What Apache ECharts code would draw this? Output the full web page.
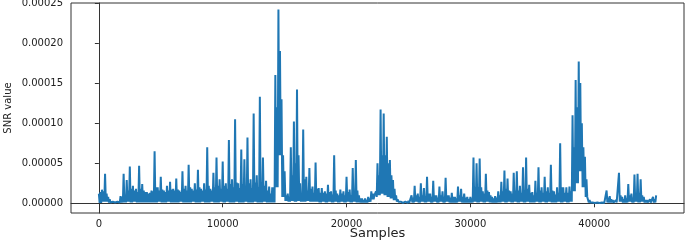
<!DOCTYPE html>
<html>
<head>
<meta charset="utf-8">
<script src="https://cdn.jsdelivr.net/npm/echarts@6/dist/echarts.min.js"></script>
<style>
  html, body { margin: 0; padding: 0; background: #fff; }
  #chart { width: 685px; height: 240px; }
</style>
</head>
<body>
<div id="chart"></div>
<script>
// SNR, one window per 250 samples, values in units of 1e-6
const binSize = 250;
// highest spike in each window
const peaks = [
  12, 17, 37, 8, 2, 3, 2, 9, 37, 29,
  46, 22, 18, 47, 24, 14, 12, 16, 65, 20,
  33, 16, 22, 27, 18, 31, 16, 40, 22, 48,
  18, 25, 42, 18, 25, 70, 18, 38, 57, 30,
  52, 25, 79, 30, 105, 25, 67, 55, 82, 30,
  112, 35, 133, 57, 28, 21, 20, 160, 242, 130,
  40, 12, 70, 102, 142, 25, 92, 33, 44, 21,
  51, 19, 19, 15, 23, 15, 60, 12, 17, 15,
  33, 17, 44, 54, 10, 6, 6, 8, 15, 10,
  50, 117, 112, 83, 54, 29, 10, 3, 2, 2,
  3, 10, 22, 12, 25, 19, 33, 12, 28, 10,
  21, 15, 32, 10, 13, 8, 21, 18, 12, 8,
  8, 57, 50, 56, 15, 37, 14, 8, 9, 15,
  27, 41, 31, 15, 38, 40, 22, 45, 57, 23,
  14, 28, 45, 20, 33, 20, 48, 15, 20, 75,
  20, 20, 21, 110, 154, 177, 100, 58, 10, 2,
  1, 1, 1, 2, 16, 9, 4, 4, 38, 8,
  10, 24, 12, 36, 37, 30, 8, 4, 5, 8,
  10
];
// height of the dense noise band in each window
const fills = [
  14, 15, 12, 5, 2, 2, 2, 8, 10, 16,
  18, 16, 14, 18, 16, 14, 13, 15, 20, 16,
  17, 14, 16, 17, 16, 17, 14, 18, 16, 20,
  16, 17, 20, 16, 17, 22, 16, 20, 22, 18,
  22, 18, 24, 20, 26, 19, 24, 22, 25, 19,
  26, 20, 26, 22, 16, 12, 20, 120, 190, 60,
  10, 8, 35, 50, 60, 12, 30, 16, 18, 13,
  18, 13, 13, 12, 14, 11, 16, 10, 12, 10,
  14, 10, 15, 16, 6, 4, 4, 6, 12, 15,
  35, 60, 60, 50, 35, 18, 5, 2, 1, 1,
  2, 7, 10, 8, 10, 9, 12, 8, 10, 7,
  10, 8, 10, 7, 8, 6, 10, 8, 7, 5,
  6, 20, 20, 20, 12, 16, 10, 6, 7, 10,
  15, 18, 16, 12, 16, 16, 13, 16, 18, 13,
  10, 13, 16, 13, 15, 13, 16, 11, 13, 20,
  13, 13, 15, 70, 120, 150, 70, 30, 4, 1,
  1, 1, 1, 1, 7, 5, 3, 3, 10, 5,
  6, 10, 7, 12, 13, 10, 4, 3, 3, 5
];
// lowest value in each window
const troughs = [
  0.5, 2, 2, 1, 1, 1, 1, 1, 1, 2,
  1, 2, 1, 1, 1, 1, 1, 1, 1, 2,
  1, 1, 2, 1, 1, 1, 2, 1, 1, 1,
  2, 1, 1, 2, 1, 1, 2, 1, 1, 2,
  1, 2, 1, 1, 2, 1, 1, 2, 1, 1,
  2, 1, 1, 2, 1, 1, 1, 20, 60, 8,
  3, 2, 3, 2, 3, 2, 2, 3, 2, 2,
  2, 1, 2, 1, 2, 1, 2, 1, 2, 1,
  2, 1, 2, 1, 1, 1, 1, 2, 5, 8,
  10, 12, 10, 8, 6, 4, 2, 1, 0.5, 0.5,
  0.5, 1, 2, 1, 2, 1, 2, 1, 2, 1,
  2, 1, 2, 1, 1, 1, 2, 1, 1, 1,
  1, 2, 1, 2, 1, 2, 1, 1, 1, 1,
  2, 1, 2, 1, 2, 1, 2, 1, 2, 1,
  1, 2, 1, 2, 1, 2, 1, 1, 2, 1,
  2, 1, 2, 15, 25, 40, 20, 8, 1, 0.5,
  0.5, 0.5, 0.5, 0.5, 1, 1, 1, 1, 2, 1,
  1, 2, 1, 2, 1, 2, 1, 1, 1, 1
];
const xTicks = [0, 10000, 20000, 30000, 40000];
const yTicks = [0, 0.00005, 0.0001, 0.00015, 0.0002, 0.00025];

// within each window: spike, low, noise band, low
const points = [];
peaks.forEach((p, i) => {
  const x0 = i * binSize;
  points.push([x0, p * 1e-6]);
  if (i < troughs.length) {
    points.push([x0 + binSize / 4, troughs[i] * 1e-6]);
    points.push([x0 + binSize / 2, fills[i] * 1e-6]);
    points.push([x0 + (3 * binSize) / 4, troughs[i] * 1e-6]);
  }
});

const font = "DejaVu Sans";
const chart = echarts.init(document.getElementById("chart"));
const option = {
  animation: false,
  backgroundColor: "#fff",
  grid: {
    left: 71, right: 1, top: 3, bottom: 27,
    containLabel: false,
    outerBoundsMode: "none",
    show: true, borderColor: "#333", borderWidth: 1
  },
  xAxis: {
    type: "value",
    min: -2250,
    max: 47250,
    name: "Samples",
    nameLocation: "middle",
    nameGap: 14,
    nameMoveOverlap: false,
    nameTextStyle: { fontFamily: font, fontSize: 13, color: "#222" },
    axisLine: { show: true, lineStyle: { color: "#333" } },
    axisTick: { show: true, length: 4, customValues: xTicks, lineStyle: { color: "#333" } },
    axisLabel: {
      customValues: xTicks,
      fontFamily: font, fontSize: 10, color: "#222", margin: 6,
      formatter: (v) => String(v)
    },
    splitLine: { show: false }
  },
  yAxis: {
    type: "value",
    min: -0.0000121,
    max: 0.00025,
    name: "SNR value",
    nameLocation: "middle",
    nameGap: 58,
    nameMoveOverlap: false,
    nameTextStyle: { fontFamily: font, fontSize: 10, color: "#222" },
    axisLine: { show: true, lineStyle: { color: "#333" } },
    axisTick: { show: true, length: 4, customValues: yTicks, lineStyle: { color: "#333" } },
    axisLabel: {
      customValues: yTicks,
      fontFamily: font, fontSize: 10, color: "#222", margin: 8,
      formatter: (v) => v.toFixed(5)
    },
    splitLine: { show: false }
  },
  series: [
    {
      type: "line",
      data: points,
      showSymbol: false,
      lineStyle: { width: 2, color: "#1f77b4" },
      itemStyle: { color: "#1f77b4" }
    }
  ]
};
chart.setOption(option);
</script>
</body>
</html>
